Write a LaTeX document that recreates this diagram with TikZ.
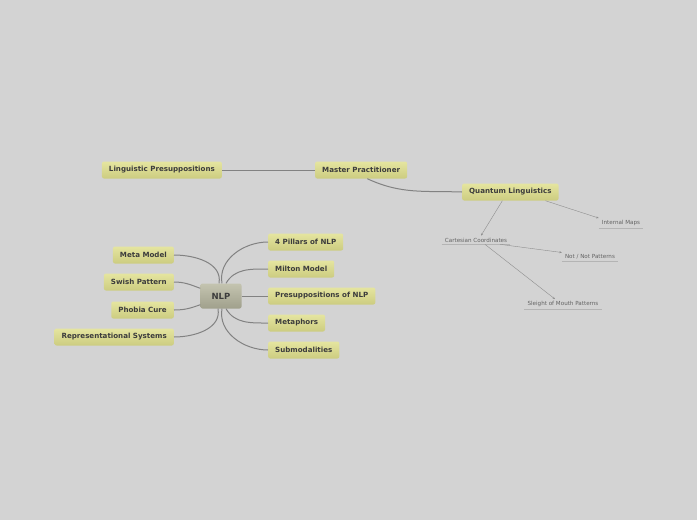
\documentclass[tikz,border=0pt]{standalone}
\usepackage{fontspec}
\setmainfont{DejaVu Sans}
\usetikzlibrary{arrows.meta}
\definecolor{bgcol}{RGB}{211,211,211}
\definecolor{boxtop}{RGB}{229,229,160}
\definecolor{boxbot}{RGB}{204,204,128}
\definecolor{roottop}{RGB}{196,196,176}
\definecolor{rootbot}{RGB}{160,160,140}
\definecolor{inkcol}{RGB}{60,60,60}
\definecolor{linkcol}{RGB}{130,130,130}
\begin{document}
\begin{tikzpicture}[x=1pt, y=-1pt,
    topic/.style={rounded corners=2pt, top color=boxtop, bottom color=boxbot,
      text=inkcol, font=\fontsize{7.1}{8}\selectfont\bfseries,
      minimum height=17pt, inner xsep=7pt, inner ysep=0pt},
    root/.style={topic, top color=roottop, bottom color=rootbot,
      font=\fontsize{8.5}{9}\selectfont\bfseries, minimum height=25pt, minimum width=41pt},
    leaf/.style={text=inkcol!80, font=\fontsize{5.6}{6}\selectfont, inner xsep=3pt, inner ysep=2pt},
    link/.style={draw=linkcol, line width=1pt},
    sublink/.style={draw=linkcol!90, line width=0.4pt, -{Stealth[length=2.5pt, width=2pt]}}]
  \fill[bgcol] (0,0) rectangle (697,520);

  \node[topic, anchor=east] (lingpre) at (222,170) {Linguistic Presuppositions};
  \node[topic, anchor=west] (master) at (315,170) {Master Practitioner};
  \node[topic, anchor=west] (quantum) at (462,192) {Quantum Linguistics};

  \node[leaf] (maps) at (621,223) {Internal Maps};
  \node[leaf] (cart) at (476,240) {Cartesian Coordinates};
  \node[leaf] (notnot) at (590,257) {Not / Not Patterns};
  \node[leaf] (sleight) at (563,304) {Sleight of Mouth Patterns};
  \foreach \n in {maps, cart, notnot, sleight}
    \draw[linkcol!60, line width=0.8pt] (\n.south west) -- (\n.south east);

  \node[root] (nlp) at (221,296) {NLP};

  \node[topic, anchor=east] (meta) at (174,255) {Meta Model};
  \node[topic, anchor=east] (swish) at (174,282) {Swish Pattern};
  \node[topic, anchor=east] (phobia) at (174,310) {Phobia Cure};
  \node[topic, anchor=east] (repsys) at (174,337) {Representational Systems};

  \node[topic, anchor=west] (pillars) at (268,242) {4 Pillars of NLP};
  \node[topic, anchor=west] (milton) at (268,269) {Milton Model};
  \node[topic, anchor=west] (presup) at (268,296) {Presuppositions of NLP};
  \node[topic, anchor=west] (metaph) at (268,323) {Metaphors};
  \node[topic, anchor=west] (submod) at (268,350) {Submodalities};

  % master branch
  \draw[link] (master.west) -- (lingpre.east);
  \draw[link] ([xshift=-40pt]master.south east) to[out=-25, in=178] (quantum.west);
  \draw[sublink] ([xshift=-8pt]quantum.south) -- ([xshift=5pt]cart.north);
  \draw[sublink] ([xshift=35pt]quantum.south) -- (maps.north west);
  \draw[sublink] ([xshift=-10pt]cart.south east) -- (notnot.north west);
  \draw[sublink] ([xshift=9pt]cart.south) -- ([xshift=-8pt]sleight.north);

  % nlp branches
  \draw[link] ([xshift=1pt]nlp.north) to[out=100, in=180] (pillars.west);
  \draw[link] ([xshift=5pt]nlp.north) to[out=60, in=180] (milton.west);
  \draw[link] (nlp.east) -- (presup.west);
  \draw[link] ([xshift=5pt]nlp.south) to[out=-60, in=180] (metaph.west);
  \draw[link] ([xshift=1pt]nlp.south) to[out=-100, in=180] (submod.west);
  \draw[link] (meta.east) to[out=0, in=80] ([xshift=-2pt]nlp.north);
  \draw[link] (swish.east) to[out=0, in=160] ([yshift=-5pt]nlp.north west);
  \draw[link] (phobia.east) to[out=0, in=-160] ([yshift=4pt]nlp.south west);
  \draw[link] (repsys.east) to[out=0, in=-80] ([xshift=-3pt]nlp.south);
\end{tikzpicture}
\end{document}
